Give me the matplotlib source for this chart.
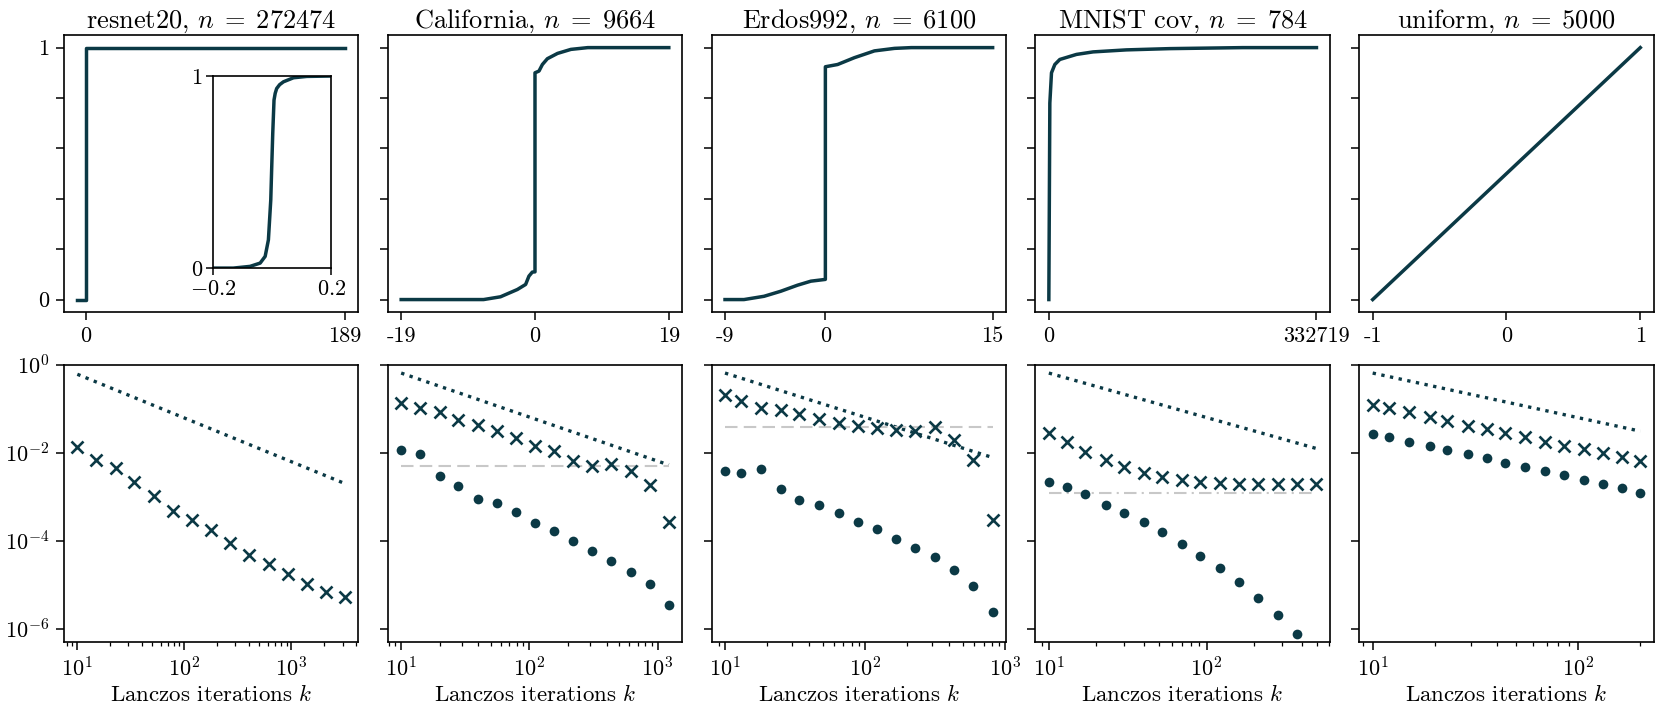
import numpy as np
import matplotlib
matplotlib.use("Agg")
import matplotlib.pyplot as plt

plt.rcParams['font.family'] = 'serif'
plt.rcParams['font.serif'] = ['cmr10']
plt.rcParams['mathtext.fontset'] = 'cm'
plt.rcParams['axes.formatter.use_mathtext'] = True
plt.rcParams['axes.unicode_minus'] = True

C = '#0b3945'
GRAY = '#c8c8c8'

# ---- top row: spectral CDFs ----
titles = ['resnet20, $n\\;=\\;272474$', 'California, $n\\;=\\;9664$', 'Erdos992, $n\\;=\\;6100$',
          'MNIST cov, $n\\;=\\;784$', 'uniform, $n\\;=\\;5000$']

resnet_x = [-6, 0, 0, 189]
resnet_y = [0, 0, 1, 1]
resnet_in_x = [-0.2, -0.132, -0.075, -0.041, -0.024, -0.013, -0.005, -0.0017,
               0.0017, 0.006, 0.010, 0.015, 0.025, 0.038, 0.072, 0.117, 0.2]
resnet_in_y = [0, 0, 0.009, 0.026, 0.061, 0.147, 0.355, 0.529,
               0.702, 0.875, 0.91, 0.935, 0.955, 0.970, 0.991, 0.998, 1]

calif_x = [-19, -7.3, -4.9, -2.5, -1.33, -0.86, -0.38, 0, 0, 0.57, 1.05, 1.76, 3.2, 5.1, 7.5, 19]
calif_y = [0, 0, 0.011, 0.04, 0.06, 0.093, 0.109, 0.11, 0.9, 0.907, 0.933, 0.956, 0.977, 0.993, 1, 1]

erdos_x = [-9, -7.3, -5.5, -4.0, -2.5, -1.3, 0, 0, 1.1, 2.6, 4.4, 6.2, 7.7, 15]
erdos_y = [0, 0, 0.013, 0.033, 0.057, 0.073, 0.08, 0.924, 0.933, 0.96, 0.987, 0.997, 1, 1]

mnist_x = [0, 1240, 3300, 7450, 13650, 34350, 55000, 96400, 150200, 241000, 332719]
mnist_y = [0, 0.78, 0.9, 0.933, 0.953, 0.973, 0.983, 0.991, 0.996, 1, 1]

unif_x = [-1, 0, 1]
unif_y = [0, 0.5, 1]

top_x = [resnet_x, calif_x, erdos_x, mnist_x, unif_x]
top_y = [resnet_y, calif_y, erdos_y, mnist_y, unif_y]
top_ticks = [[0, 189], [-19, 0, 19], [-9, 0, 15], [0, 332719], [-1, 0, 1]]
top_ticklabels = [['0', '189'], ['-19', '0', '19'], ['-9', '0', '15'],
                  ['0', '332719'], ['-1', '0', '1']]

# ---- bottom row: errors vs Lanczos iterations ----
k_resnet = [10, 15, 23, 34, 52, 78, 118, 178, 268, 405, 611, 922, 1391, 2099, 3162]
k_calif = [10, 14, 20, 28, 40, 56, 79, 111, 156, 220, 310, 437, 616, 869, 1225]
k_erdos = [10, 13, 18, 25, 34, 47, 65, 89, 122, 167, 228, 313, 428, 585, 813]
k_mnist = [10, 13, 17, 23, 30, 40, 52, 70, 91, 121, 161, 213, 282, 374, 497]
k_unif = [10, 12, 15, 19, 23, 29, 36, 44, 55, 69, 85, 106, 131, 163, 200]

cross_resnet = [1.32e-2, 6.8e-3, 4.4e-3, 2.2e-3, 1.06e-3, 4.7e-4, 2.96e-4, 1.73e-4,
                8.9e-5, 4.7e-5, 3.0e-5, 1.78e-5, 1.05e-5, 6.9e-6, 5.4e-6]
cross_calif = [0.138, 0.106, 0.083, 0.0556, 0.042, 0.0312, 0.022, 0.0142,
               0.0109, 0.00656, 0.00514, 0.00551, 0.00388, 0.0019, 2.67e-4]
cross_erdos = [0.207, 0.153, 0.103, 0.094, 0.076, 0.0586, 0.0467, 0.0413,
               0.0359, 0.0329, 0.0312, 0.0378, 0.0195, 0.0068, 2.9e-4]
cross_mnist = [0.0276, 0.0172, 0.01055, 0.0068, 0.0048, 0.0035, 0.00283, 0.00238,
               0.00218, 0.00207, 0.00193, 0.00193, 0.00193, 0.00193, 0.00193]
cross_unif = [0.122, 0.1026, 0.0832, 0.064, 0.0537, 0.0413, 0.034, 0.0276,
              0.0224, 0.0178, 0.01445, 0.0119, 0.010, 0.0081, 0.00656]

dot_calif = [0.0115, 0.0095, 2.94e-3, 1.74e-3, 8.8e-4, 7.2e-4, 4.5e-4, 2.53e-4,
             1.66e-4, 9.8e-5, 5.8e-5, 3.4e-5, 1.96e-5, 1.06e-5, 3.5e-6]
dot_erdos = [3.82e-3, 3.5e-3, 4.17e-3, 1.48e-3, 8.3e-4, 6.5e-4, 4.28e-4, 2.67e-4,
             1.82e-4, 1.07e-4, 6.9e-5, 4.17e-5, 2.14e-5, 9.6e-6, 2.36e-6]
dot_mnist = [2.18e-3, 1.68e-3, 1.18e-3, 6.6e-4, 4.35e-4, 2.67e-4, 1.58e-4, 8.55e-5,
             4.6e-5, 2.38e-5, 1.14e-5, 5.0e-6, 2.05e-6, 7.6e-7]
dot_unif = [0.0267, 0.0232, 0.0178, 0.0142, 0.0115, 0.0093, 0.00743, 0.006,
            0.0048, 0.00389, 0.0031, 0.00247, 0.002, 0.00162, 0.00122]

# 1/k reference lines (end points)
ref_k = [[10, 3000], [10, 1225], [10, 813], [10, 497], [10, 200]]
ref_y = [[0.61, 0.0021], [0.65, 0.0053], [0.65, 0.0078], [0.65, 0.0125], [0.65, 0.031]]

# horizontal gray levels
level_calif = 5.0e-3
level_erdos = 3.78e-2
level_mnist = 1.24e-3

ks = [k_resnet, k_calif, k_erdos, k_mnist, k_unif]
crosses = [cross_resnet, cross_calif, cross_erdos, cross_mnist, cross_unif]
dots = [None, dot_calif, dot_erdos, dot_mnist, dot_unif]
levels = [None, (level_calif, (0, (6, 3))), (level_erdos, (0, (6, 3))),
          (level_mnist, (0, (6, 2.5, 1, 2.5))), None]

FS = 16
fig, axes = plt.subplots(2, 5, figsize=(16.57, 7.06), dpi=100)
fig.subplots_adjust(left=0.0386, right=0.998, top=0.9504, bottom=0.0907,
                    wspace=0.10, hspace=0.19)

for i in range(5):
    ax = axes[0, i]
    ax.plot(top_x[i], top_y[i], color=C, lw=2.5)
    ax.set_title(titles[i], fontsize=19, pad=5)
    ax.set_xticks(top_ticks[i])
    ax.set_xticklabels(top_ticklabels[i])
    ax.set_yticks([0, 0.2, 0.4, 0.6, 0.8, 1])
    if i == 0:
        ax.set_yticklabels(['0', '', '', '', '', '1'])
    else:
        ax.set_yticklabels([])

    ax = axes[1, i]
    ax.set_xscale('log')
    ax.set_yscale('log')
    ax.plot(ref_k[i], ref_y[i], ':', color=C, lw=2.4)
    if levels[i] is not None:
        ax.plot([ks[i][0], ks[i][-1]], [levels[i][0]] * 2, color=GRAY, lw=1.5,
                linestyle=levels[i][1])
    ax.plot(ks[i], crosses[i], 'x', color=C, ms=8, mew=1.9)
    if dots[i] is not None:
        ax.plot(ks[i][:len(dots[i])], dots[i], 'o', color=C, ms=7, mew=0)
    ax.set_ylim(5e-7, 1)
    ax.set_yticks([1e-6, 1e-4, 1e-2, 1e0])
    ax.yaxis.set_minor_locator(matplotlib.ticker.NullLocator())
    if i != 0:
        ax.set_yticklabels([])
    ax.set_xlabel('Lanczos iterations $k$', fontsize=16.5, labelpad=2)

for ax in axes.flat:
    ax.tick_params(labelsize=FS, length=5.5, width=1.1, pad=5)
    ax.tick_params(which='minor', length=3, width=0.9)
    for s in ax.spines.values():
        s.set_linewidth(1.2)

# inset for resnet20
ins = axes[0, 0].inset_axes([0.507, 0.159, 0.401, 0.693])
ins.plot(resnet_in_x, resnet_in_y, color=C, lw=2.5)
ins.set_xlim(-0.2, 0.2)
ins.set_ylim(0, 1)
ins.set_xticks([-0.2, 0.2])
ins.set_xticklabels(['$-0.2$', '$0.2$'])
ins.set_yticks([0, 1])
ins.set_yticklabels(['0', '1'])
ins.tick_params(labelsize=FS, length=5, width=1.1, pad=3)
for s in ins.spines.values():
    s.set_linewidth(1.2)

fig.savefig('out.png', dpi=100)
